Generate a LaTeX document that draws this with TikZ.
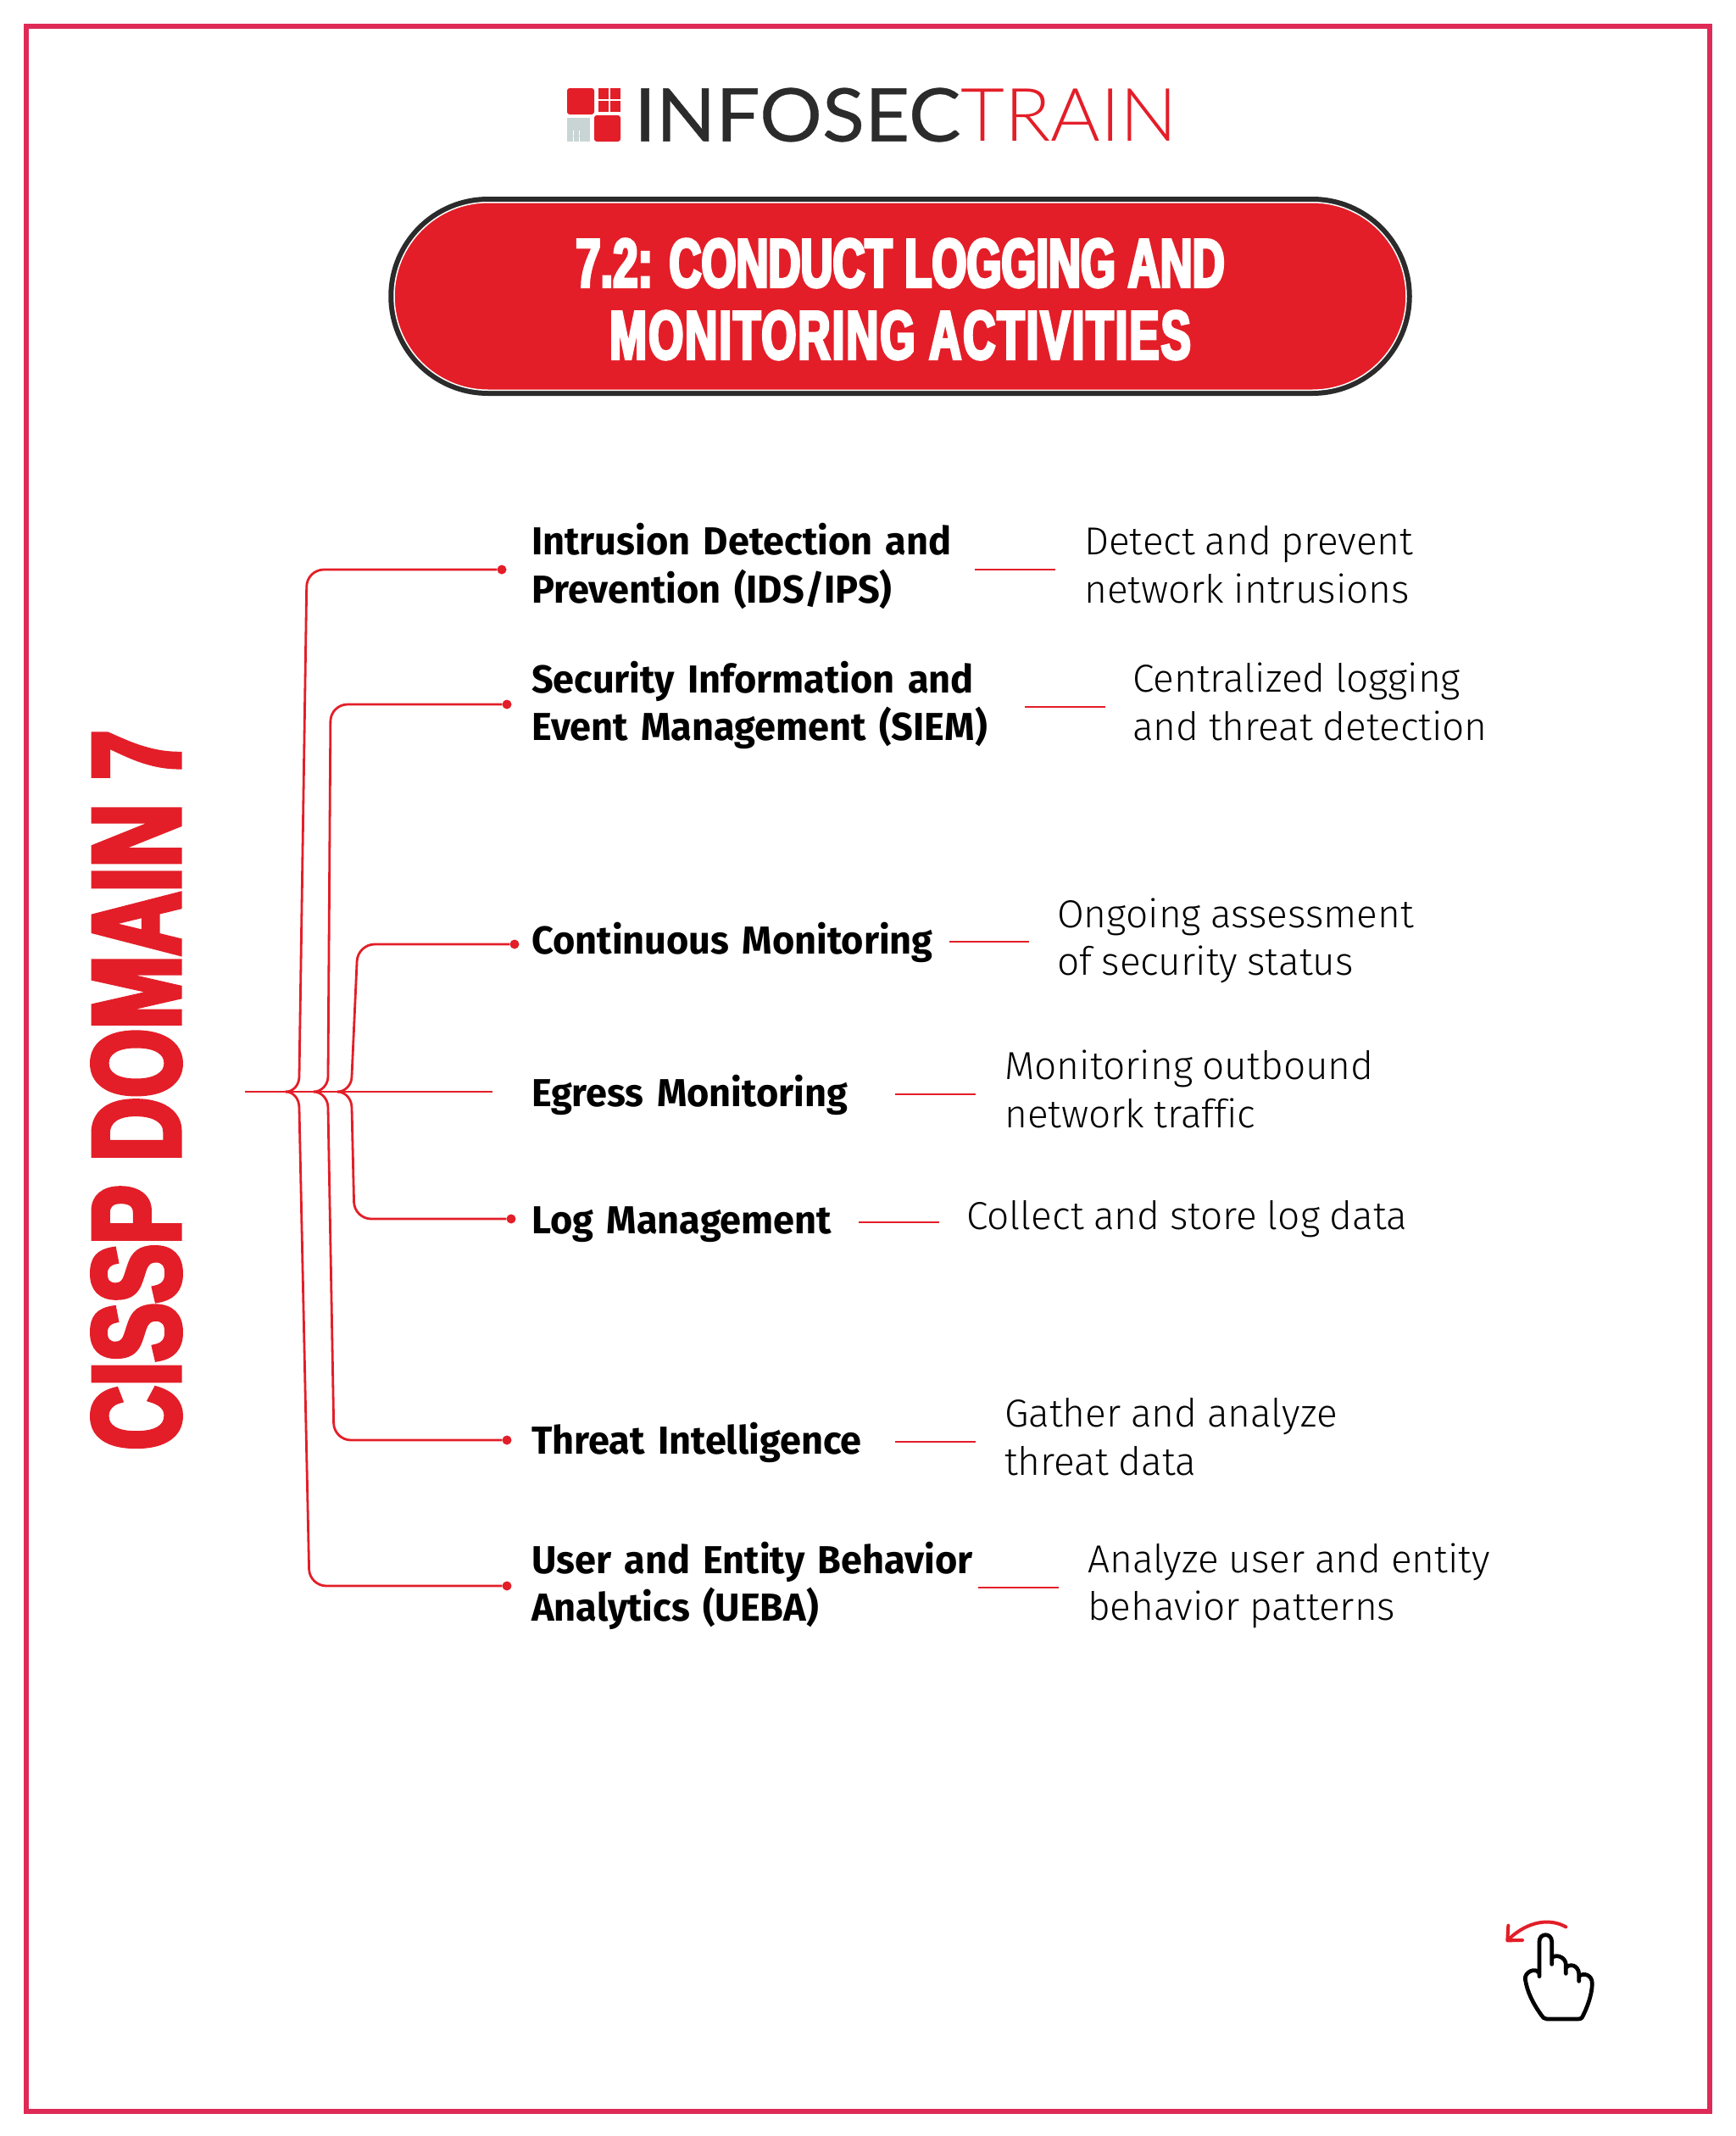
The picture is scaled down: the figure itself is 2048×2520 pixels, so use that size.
\documentclass[tikz,border=0pt]{standalone}
\usepackage{fontspec}
\usepackage{tikz}
\usetikzlibrary{shapes.misc}
\setmainfont{Fira Sans}
\newfontfamily\logofont[FakeStretch=1.06,FakeBold=0.4]{Lato}
\newfontfamily\logolight[FakeStretch=1.03]{Lato Light}
\newfontfamily\bannerfont[FakeStretch=0.65,FakeBold=4]{Liberation Sans Bold}
\newfontfamily\domainfont[FakeStretch=0.707,FakeBold=4]{Liberation Sans Bold}
\newfontfamily\topicfont[FakeStretch=0.98,WordSpace=0.7]{Fira Sans Bold}
\newfontfamily\notefont[FakeStretch=1.0,WordSpace=0.9,Ligatures=NoCommon]{Fira Sans Light}
\definecolor{brandred}{HTML}{E31E28}
\definecolor{framered}{HTML}{DF2A57}
\definecolor{inkdark}{HTML}{2B2B2B}
\definecolor{pillgrey}{HTML}{C9D5D5}
\begin{document}
\begin{tikzpicture}[x=1pt,y=-1pt,
  every node/.style={inner sep=0pt},
  topic/.style={anchor=west,align=left,inner xsep=0pt,font=\topicfont\fontsize{46}{56.7}\selectfont},
  note/.style={anchor=west,align=left,font=\notefont\fontsize{46}{56.7}\selectfont,text=black},
  stub/.style={line width=2.8pt,brandred},
  tipdot/.style={circle,fill=brandred,minimum size=11pt}]
  \useasboundingbox (0,0) rectangle (2048,2520);
  \draw[line width=6pt,framered] (31,31) rectangle (2017,2491);

  \fill[brandred,rounded corners=3pt] (669,104) rectangle (701,135);
  \foreach \cellx/\celly in {706/104,720/104,706/119,720/119}
    \fill[brandred] (\cellx,\celly) rectangle ++(12,13);
  \fill[brandred,rounded corners=3pt] (701,136) rectangle (732,167);
  \fill[pillgrey] (669,139) rectangle (696,167);
  \foreach \cellx/\celly in {670/154,677/154,670/161,677/161}
    \fill[white] (\cellx,\celly) ++(5.5,0) rectangle ++(0.8,6);
  \node[anchor=west] (logotext) at (748,135.5)
    {\fontsize{87}{87}\selectfont\logofont\textcolor{inkdark}{INFOSEC}\logolight\textcolor{brandred}{TRAIN}};

  \node[rounded rectangle,draw=white,line width=1.5pt,fill=brandred,
    preaction={draw=inkdark,line width=13.5pt},
    minimum width=1194pt,minimum height=221.5pt] (banner) at (1062,349.5) {};
  \node[align=center,text=white,font=\bannerfont\fontsize{81}{85}\selectfont] (bannertext) at (1062,353)
    {7.2: CONDUCT LOGGING AND\\{\addfontfeature{LetterSpace=2.6}MONITORING ACTIVITIES}};

  \node[rotate=90,text=brandred,font=\domainfont\fontsize{147}{147}\selectfont] (domain) at (161,1286) {CISSP DOMAIN 7};

  \coordinate (stemstart) at (289,1288);
  \coordinate (stemend) at (581,1288);
  \coordinate (hubA) at (337,1288);
  \coordinate (hubB) at (370,1288);
  \coordinate (hubC) at (398,1288);
  \draw[stub] (stemstart) -- (stemend);

  \foreach \tag/\posy/\lineend/\linestart/\noteat/\noteshift/\liney/\topictext/\notetext in {
    ids/668/1150/1245/1279/-2/672/{Intrusion Detection and\\Prevention (IDS/IPS)}/{Detect and prevent\\network intrusions},
    siem/832/1209/1304/1336/-4/834/{Security Information and\\Event Management (SIEM)}/{Centralized logging\\and threat detection},
    cm/1112/1120/1214/1247/-2/1111/{Continuous Monitoring}/{Ongoing assessment\\of security status},
    egress/1292/1056/1151/1185/-7/1291/{Egress Monitoring}/{Monitoring outbound\\network traffic},
    logm/1445/1013/1108/1140/-7/1442/{Log Management}/{Collect and store log data},
    threat/1702/1056/1151/1185/-7/1701/{Threat Intelligence}/{Gather and analyze\\threat data},
    ueba/1871/1154/1249/1283/0/1873/{User and Entity Behavior\\Analytics (UEBA)}/{Analyze user and entity\\behavior patterns}} {
    \pgfmathsetmacro{\topicwidth}{\lineend-627}
    \pgfmathsetmacro{\notegap}{\noteat-\linestart}
    \node[topic,text width=\topicwidth pt] (\tag) at (627,\posy) {\topictext};
    \node[note,inner xsep=\notegap pt] (\tag note) at (\linestart,\posy+\noteshift) {\notetext};
    \draw[stub] (\tag.east |- 0,\liney) -- (\tag note.west |- 0,\liney);
  }

  \node[tipdot] (dotids) at (592,672) {};
  \node[tipdot] (dotsiem) at (598,831) {};
  \node[tipdot] (dotcm) at (607,1114) {};
  \node[tipdot] (dotlog) at (603,1438) {};
  \node[tipdot] (dotthreat) at (598,1699) {};
  \node[tipdot] (dotueba) at (598,1871) {};

  \draw[stub] (hubA) .. controls (346,1288) and (353,1280) .. (353,1270) [rounded corners=20pt] -- (362,672) -- (dotids);
  \draw[stub] (hubB) .. controls (379,1288) and (387,1280) .. (387,1270) [rounded corners=20pt] -- (390,831) -- (dotsiem);
  \draw[stub] (hubC) .. controls (407,1288) and (415,1280) .. (415,1270) [rounded corners=20pt] -- (422,1114) -- (dotcm);
  \draw[stub] (hubC) .. controls (407,1288) and (415,1296) .. (415,1307) [rounded corners=20pt] -- (418,1438) -- (dotlog);
  \draw[stub] (hubB) .. controls (379,1288) and (387,1296) .. (387,1307) [rounded corners=20pt] -- (394,1699) -- (dotthreat);
  \draw[stub] (hubA) .. controls (346,1288) and (353,1296) .. (353,1307) [rounded corners=20pt] -- (365,1871) -- (dotueba);

  \begin{scope}[shift={(1740,2230)},x=0.3333pt,y=-0.3333pt,line cap=round,line join=round]
    \draw[line width=4.7pt,black] (228,305) -- (228,182) .. controls (228,150) and (272,150) .. (272,182) -- (272,262)
      (272,240) .. controls (285,225) and (320,235) .. (322,262) -- (322,295)
      (322,275) .. controls (335,258) and (366,265) .. (368,295) -- (368,322)
      (368,305) .. controls (385,290) and (415,300) .. (415,330) .. controls (415,370) and (395,420) .. (382,445)
      .. controls (378,455) and (372,456) .. (365,456) -- (255,456) .. controls (245,456) and (240,450) .. (235,442)
      .. controls (205,400) and (185,360) .. (178,315) .. controls (175,290) and (215,270) .. (228,295);
    \draw[line width=4pt,brandred] (322,130) .. controls (270,100) and (190,105) .. (118,175)
      (118,125) -- (115,178) -- (168,177);
  \end{scope}
\end{tikzpicture}
\end{document}
